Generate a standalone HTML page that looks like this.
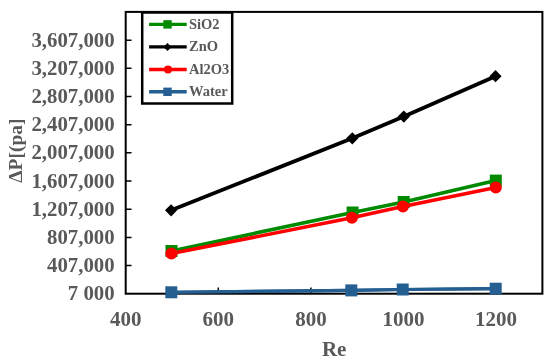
<!DOCTYPE html>
<html><head><meta charset="utf-8"><style>
html,body{margin:0;padding:0;background:#fff;}
svg{display:block;}
.t{font-family:"Liberation Serif",serif;font-weight:bold;font-size:20.8px;fill:#595959;}
</style></head><body>
<svg width="550" height="364" viewBox="0 0 550 364">
<rect width="550" height="364" fill="#fff"/>
<text x="114.6" y="300.2" class="t" text-anchor="end">7 000</text>
<text x="114.6" y="272.0" class="t" text-anchor="end">407,000</text>
<text x="114.6" y="243.9" class="t" text-anchor="end">807,000</text>
<text x="114.6" y="215.7" class="t" text-anchor="end">1,207,000</text>
<text x="114.6" y="187.5" class="t" text-anchor="end">1,607,000</text>
<text x="114.6" y="159.3" class="t" text-anchor="end">2,007,000</text>
<text x="114.6" y="131.2" class="t" text-anchor="end">2,407,000</text>
<text x="114.6" y="103.0" class="t" text-anchor="end">2,807,000</text>
<text x="114.6" y="74.8" class="t" text-anchor="end">3,207,000</text>
<text x="114.6" y="46.7" class="t" text-anchor="end">3,607,000</text>
<text x="125.7" y="326.1" class="t" style="font-size:21px" text-anchor="middle">400</text>
<text x="218.3" y="326.1" class="t" style="font-size:21px" text-anchor="middle">600</text>
<text x="310.9" y="326.1" class="t" style="font-size:21px" text-anchor="middle">800</text>
<text x="403.5" y="326.1" class="t" style="font-size:21px" text-anchor="middle">1000</text>
<text x="496.1" y="326.1" class="t" style="font-size:21px" text-anchor="middle">1200</text>
<text x="334.2" y="355.6" class="t" style="font-size:21px" text-anchor="middle">Re</text>
<text transform="translate(22,150.6) rotate(-90)" class="t" style="font-size:19.5px" text-anchor="middle">ΔP[(pa]</text>
<path d="M125.7 265.5H131.5 M125.7 237.4H131.5 M125.7 209.2H131.5 M125.7 181.0H131.5 M125.7 152.8H131.5 M125.7 124.7H131.5 M125.7 96.5H131.5 M125.7 68.3H131.5 M125.7 40.2H131.5 M218.3 293.7V287.6 M310.9 293.7V287.6 M403.5 293.7V287.6 M496.1 293.7V287.6" stroke="#000" stroke-width="1.5" fill="none"/>
<polyline points="171.3,292.3 351.3,290.4 402.7,289.5 495.7,288.7" fill="none" stroke="#255E91" stroke-width="3.2"/>
<rect x="125.7" y="11.9" width="416.7" height="281.8" fill="none" stroke="#000" stroke-width="2"/>
<polyline points="171.3,292.3 351.3,290.4 402.7,289.5 495.7,288.7" fill="none" stroke="#255E91" stroke-width="3.2"/>
<rect x="165.3" y="286.3" width="12" height="12" fill="#255E91"/>
<rect x="345.3" y="284.4" width="12" height="12" fill="#255E91"/>
<rect x="396.7" y="283.5" width="12" height="12" fill="#255E91"/>
<rect x="489.7" y="282.7" width="12" height="12" fill="#255E91"/>
<polyline points="171.5,251.0 352.6,212.5 403.7,202.0 495.8,180.6" fill="none" stroke="#008A00" stroke-width="3.6"/>
<rect x="165.5" y="245.0" width="12" height="12" fill="#008A00"/>
<rect x="346.6" y="206.5" width="12" height="12" fill="#008A00"/>
<rect x="397.7" y="196.0" width="12" height="12" fill="#008A00"/>
<rect x="489.8" y="174.6" width="12" height="12" fill="#008A00"/>
<polyline points="171.4,253.6 351.9,217.8 402.9,206.4 495.8,187.6" fill="none" stroke="#FF0000" stroke-width="3.6"/>
<circle cx="171.4" cy="253.6" r="6" fill="#FF0000"/>
<circle cx="351.9" cy="217.8" r="6" fill="#FF0000"/>
<circle cx="402.9" cy="206.4" r="6" fill="#FF0000"/>
<circle cx="495.8" cy="187.6" r="6" fill="#FF0000"/>
<polyline points="171.1,210.3 352.3,138.3 403.8,116.6 495.5,76.2" fill="none" stroke="#000" stroke-width="3.8"/>
<path d="M171.1 204.2L177.2 210.3L171.1 216.4L165.0 210.3Z" fill="#000"/>
<path d="M352.3 132.2L358.4 138.3L352.3 144.4L346.2 138.3Z" fill="#000"/>
<path d="M403.8 110.5L409.9 116.6L403.8 122.7L397.7 116.6Z" fill="#000"/>
<path d="M495.5 70.1L501.6 76.2L495.5 82.3L489.4 76.2Z" fill="#000"/>
<rect x="142.2" y="12.5" width="90" height="91" fill="#fff" stroke="#000" stroke-width="2.5"/>
<path d="M149.1 24.4H186.7" stroke="#008A00" stroke-width="3.4"/>
<rect x="163.3" y="20.2" width="8.4" height="8.4" fill="#008A00"/>
<text x="189" y="28.6" class="t" style="font-size:14.5px">SiO2</text>
<path d="M149.1 46.9H186.7" stroke="#000" stroke-width="3.4"/>
<path d="M167.5 42.9L171.5 46.9L167.5 50.9L163.5 46.9Z" fill="#000"/>
<text x="189" y="51.1" class="t" style="font-size:14.5px">ZnO</text>
<path d="M149.1 69.5H186.7" stroke="#FF0000" stroke-width="3.4"/>
<circle cx="168" cy="69.5" r="4" fill="#FF0000"/>
<text x="189" y="73.7" class="t" style="font-size:14.5px">Al2O3</text>
<path d="M149.1 91.8H186.7" stroke="#255E91" stroke-width="3.4"/>
<rect x="163.3" y="87.6" width="8.4" height="8.4" fill="#255E91"/>
<text x="189" y="96.0" class="t" style="font-size:14.5px">Water</text>
</svg>
</body></html>
